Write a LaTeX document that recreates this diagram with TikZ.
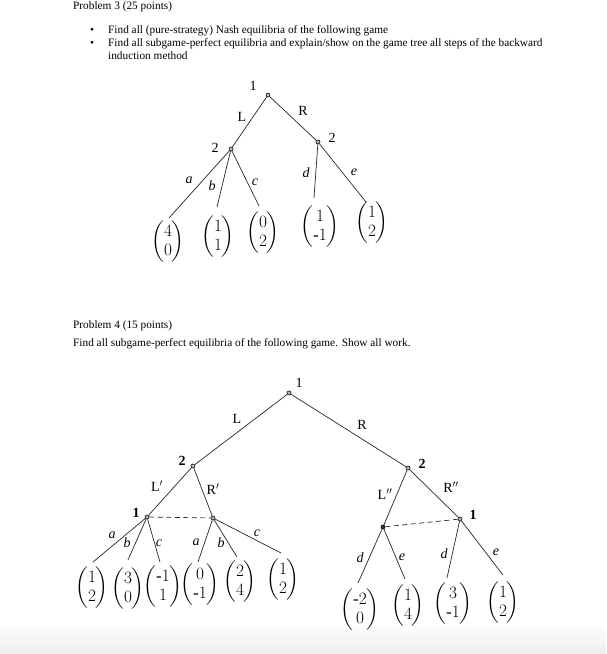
\documentclass[tikz,border=0pt]{standalone}
\usepackage{amsmath}
\usepackage{fontspec}
\setmainfont{Liberation Serif}
\usetikzlibrary{positioning, calc}

\newcommand{\pay}[2]{$\begin{pmatrix}#1\\#2\end{pmatrix}$}
\newcommand{\mi}{\text{-}}

\begin{document}
\begin{tikzpicture}[
    x=1pt, y=-1pt,
    every node/.style={font=\fontsize{11.3}{13}\selectfont},
    txt/.style={anchor=west, inner sep=0pt},
    dot/.style={circle, draw, fill=gray!55, inner sep=0pt, minimum size=4pt, line width=0.6pt},
    edge/.style={line width=0.7pt, black!85},
    info/.style={edge, dash pattern=on 5pt off 3.5pt},
    lbl/.style={font=\fontsize{14}{16}\selectfont, inner sep=0.5pt},
    pl/.style={font=\fontsize{14}{16}\selectfont\bfseries, inner sep=0.5pt},
    pay/.style={font=\fontsize{17}{19}\selectfont, inner sep=0pt},
  ]
  \useasboundingbox (0,0) rectangle (606,654);
  \shade[top color=white, bottom color=gray!14] (0,622) rectangle (606,654);

  % ---- Problem texts ----
  \node[txt] (p3) at (73,7) {Problem 3 (25 points)};
  \node (bul1) at (92,31) {\textbullet};
  \node[txt] (q3a) at (108,31) {Find all (pure-strategy) Nash equilibria of the following game};
  \node (bul2) at (92,44) {\textbullet};
  \node[txt] (q3b) at (108,44) {Find all subgame-perfect equilibria and explain/show on the game tree all steps of the backward};
  \node[txt] (q3c) at (108,56) {induction method};

  \node[txt] (p4) at (73,326) {Problem 4 (15 points)};
  \node[txt] (q4) at (73,344) {Find all subgame-perfect equilibria of the following game. Show all work.};

  % ---- Tree 1 ----
  \node[dot] (r1) at (268,95) {};
  \node[dot] (t1l) at (231,149) {};
  \node[dot] (t1r) at (318,142) {};
  \node[lbl] at (253,86) {1};
  \node[lbl] at (215,148) {2};
  \node[lbl] at (332,138) {2};

  \coordinate (t1a) at (169,218);
  \coordinate (t1b) at (217,207);
  \coordinate (t1c) at (259,206);
  \coordinate (t1d) at (314,198);
  \coordinate (t1e) at (366,202);

  \draw[edge] (r1) -- (t1l);
  \draw[edge] (r1) -- (t1r);
  \draw[edge] (t1l) -- (t1a);
  \draw[edge] (t1l) -- (t1b);
  \draw[edge] (t1l) -- (t1c);
  \draw[edge] (t1r) -- (t1d);
  \draw[edge] (t1r) -- (t1e);

  \node[lbl] at (242,117) {L};
  \node[lbl] at (303,111) {R};
  \node[lbl] at (189,180) {\itshape a};
  \node[lbl] at (212,186) {\itshape b};
  \node[lbl] at (255,182) {\itshape c};
  \node[lbl] at (306,173) {\itshape d};
  \node[lbl] at (354,172) {\itshape e};

  \node[pay] (t1p1) at (168,242) {\pay{4}{0}};
  \node[pay] (t1p2) at (218,237) {\pay{1}{1}};
  \node[pay] (t1p3) at (263,233) {\pay{0}{2}};
  \node[pay] (t1p4) at (320,227) {\pay{1}{\mi1}};
  \node[pay] (t1p5) at (372,223) {\pay{1}{2}};

  % ---- Tree 2 ----
  \node[dot] (r2) at (289,393) {};
  \node[dot] (u2l) at (193,466) {};
  \node[dot] (u1l) at (147,517) {};
  \node[dot] (u1r) at (213,518) {};
  \node[dot] (v2) at (408,468) {};
  \node[dot, fill=black!80] (v1l) at (383,527) {};
  \node[dot] (v1r) at (460,519) {};
  \node[lbl] at (299,383) {1};
  \node[pl] at (182,461) {2};
  \node[pl] at (136,513) {1};
  \node[pl] at (422,464) {2};
  \node[pl] at (473,515) {1};

  \draw[edge] (r2) -- (u2l);
  \draw[edge] (r2) -- (v2);
  \draw[edge] (u2l) -- (u1l);
  \draw[edge] (u2l) -- (u1r);
  \draw[edge] (v2) -- (v1l);
  \draw[edge] (v2) -- (v1r);
  \draw[info] (u1l) -- (u1r);
  \draw[info] (v1l) -- (v1r);

  \coordinate (ua1) at (93,562);
  \coordinate (ub1) at (128,560);
  \coordinate (uc1) at (160,562);
  \coordinate (ua2) at (198,562);
  \coordinate (ub2) at (237,557);
  \coordinate (uc2) at (281,553);
  \coordinate (vd1) at (358,583);
  \coordinate (ve1) at (405,579);
  \coordinate (vd2) at (447,578);
  \coordinate (ve2) at (503,575);

  \draw[edge] (u1l) -- (ua1);
  \draw[edge] (u1l) -- (ub1);
  \draw[edge] (u1l) -- (uc1);
  \draw[edge] (u1r) -- (ua2);
  \draw[edge] (u1r) -- (ub2);
  \draw[edge] (u1r) -- (uc2);
  \draw[edge] (v1l) -- (vd1);
  \draw[edge] (v1l) -- (ve1);
  \draw[edge] (v1r) -- (vd2);
  \draw[edge] (v1r) -- (ve2);

  \node[lbl] at (237,419) {L};
  \node[lbl] at (362,425) {R};
  \node[lbl] at (157,486) {L$'$};
  \node[lbl] at (213,489) {R$'$};
  \node[lbl] at (385,494) {L$''$};
  \node[lbl] at (451,487) {R$''$};
  \node[lbl] at (112,535) {\itshape a};
  \node[lbl] at (127,543) {\itshape b};
  \node[lbl] at (159,543) {\itshape c};
  \node[lbl] at (196,542) {\itshape a};
  \node[lbl] at (221,543) {\itshape b};
  \node[lbl] at (257,533) {\itshape c};
  \node[lbl] at (360,558) {\itshape d};
  \node[lbl] at (402,557) {\itshape e};
  \node[lbl] at (444,554) {\itshape d};
  \node[lbl] at (496,552) {\itshape e};

  \node[pay] (u1p) at (92,588) {\pay{1}{2}};
  \node[pay] (u2p) at (128,589) {\pay{3}{0}};
  \node[pay] (u3p) at (163,587) {\pay{\mi1}{1}};
  \node[pay] (u4p) at (200,585) {\pay{0}{\mi1}};
  \node[pay] (u5p) at (240,582) {\pay{2}{4}};
  \node[pay] (u6p) at (283,580) {\pay{1}{2}};
  \node[pay] (v1p) at (360,610) {\pay{\mi2}{0}};
  \node[pay] (v2p) at (408,606) {\pay{1}{4}};
  \node[pay] (v3p) at (453,604) {\pay{3}{\mi1}};
  \node[pay] (v4p) at (503,603) {\pay{1}{2}};

\end{tikzpicture}
\end{document}
